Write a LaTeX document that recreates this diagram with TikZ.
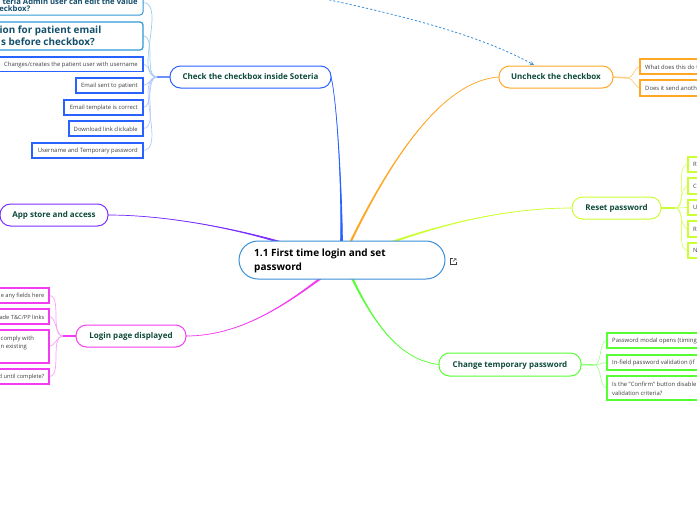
\documentclass[tikz,border=0pt]{standalone}
\usepackage{fontspec}
\setmainfont{Open Sans}
\usetikzlibrary{arrows.meta,backgrounds,calc}
\definecolor{rootc}{HTML}{3B8FD6}
\definecolor{titlec}{HTML}{0D4A3A}
\definecolor{bluec}{HTML}{2962FF}
\definecolor{purplec}{HTML}{7B2FFF}
\definecolor{magc}{HTML}{F23CF2}
\definecolor{orangec}{HTML}{FFA726}
\definecolor{limec}{HTML}{CCFF33}
\definecolor{greenc}{HTML}{55FF33}
\definecolor{cyanc}{HTML}{2E9AD6}
\definecolor{qtext}{HTML}{14506E}
\tikzset{
  base/.style={inner sep=0pt,outer sep=0pt,anchor=north west},
  topic/.style={base,draw=#1,line width=1pt,rounded corners=10.5pt,fill=white,text=titlec,font=\bfseries\fontsize{8}{9}\selectfont,align=center,text height=6.5pt,text depth=1.5pt},
  leaf/.style={base,draw=#1,line width=1.5pt,fill=white},
  qbox/.style={base,draw=cyanc,rounded corners=3pt,fill=white},
  twig/.style={line width=.7pt},
  stub/.style={line width=1.4pt},
  lt/.style={anchor=east,inner sep=0pt,text=black!75,font=\fontsize{5.9}{8.5}\selectfont},
  lts/.style={anchor=east,inner sep=0pt,text=black!75,font=\fontsize{5.7}{8.5}\selectfont},
  rt/.style={anchor=west,inner sep=0pt,text=black!75,font=\fontsize{5.9}{8.5}\selectfont},
  qsmall/.style={inner sep=0pt,text=qtext,font=\bfseries\fontsize{7.7}{9}\selectfont},
  qbig/.style={inner sep=0pt,text=qtext,font=\bfseries\fontsize{9.9}{11}\selectfont}
}
% tapered main branch: colour, thin end, control 1, control 2, thick end, half-width vector
\newcommand{\taperline}[6]{%
  \filldraw[#1,line width=.7pt,line join=round] (#2) .. controls (#3) and (#4) .. ($(#5)+(#6)$) -- ($(#5)-(#6)$) .. controls (#4) and (#3) .. (#2) -- cycle;}
\begin{document}
\begin{tikzpicture}[x=1pt,y=-1pt]
\useasboundingbox (0,0) rectangle (697,520);
\clip (0,0) rectangle (697,520);
\coordinate (jcheck) at (157,77);
\coordinate (jlogin) at (63,336);
\coordinate (juncheck) at (628,78);
\coordinate (jreset) at (675,208);
\coordinate (jchange) at (594,365);
\coordinate (dashstart) at (325,-1);
\coordinate (dashend) at (534,65);
\coordinate (rpurple) at (283,243);
\coordinate (rblue) at (341.5,243);
\coordinate (rorange) at (350,243);
\coordinate (rlime) at (392,242);
\coordinate (rgreen) at (352,278);
\coordinate (rmag) at (321,278);
% topics
\node[topic=rootc,rounded corners=19pt,minimum width=206pt,minimum height=38pt,text=black] (root) at (239,241) {};
\node[anchor=west,inner sep=0pt,align=left,text=black,font=\bfseries\fontsize{10}{14}\selectfont] (roottext) at (254,260.5) {1.1 First time login and set\\password};
\node[topic=bluec,minimum width=161pt,minimum height=22pt] (check) at (170,66) {Check the checkbox inside Soteria};
\node[topic=purplec,minimum width=108pt,minimum height=22pt] (app) at (0,204) {App store and access};
\node[topic=magc,minimum width=110pt,minimum height=22pt] (login) at (76,325) {Login page displayed};
\node[topic=orangec,minimum width=114pt,minimum height=22pt] (uncheck) at (499,66) {Uncheck the checkbox};
\node[topic=limec,minimum width=89pt,minimum height=22pt] (reset) at (572,197) {Reset password};
\node[topic=greenc,minimum width=142pt,minimum height=23pt] (change) at (439,353) {Change temporary password};
% check children
\node[qbox,line width=1pt,anchor=north east,minimum width=160pt,minimum height=25pt] (q1) at (143,-10) {};
\node[qsmall,anchor=east] (q1a) at (138,1.5) {teria Admin user can edit the value};
\node[qsmall,anchor=east] (q1b) at (30.5,8.5) {eckbox?};
\node[qbox,line width=1.2pt,anchor=north east,minimum width=160pt,minimum height=28pt] (q2) at (143,22) {};
\node[qbig,anchor=east] (q2a) at (101.5,31) {ion for patient email};
\node[qbig,anchor=east] (q2b) at (95,42) {s before checkbox?};
\node[leaf=bluec,anchor=north east,minimum width=150pt,minimum height=14.5pt] (c1) at (143,57) {};
\node[lt] (c1t) at (138,64.5) {Changes/creates the patient user with username};
\node[leaf=bluec,anchor=north east,minimum width=67pt,minimum height=15pt] (c2) at (143,78) {};
\node[lt] (c2t) at (138,86) {Email sent to patient};
\node[leaf=bluec,anchor=north east,minimum width=79pt,minimum height=15pt] (c3) at (143,100) {};
\node[lt] (c3t) at (138,107.5) {Email template is correct};
\node[leaf=bluec,anchor=north east,minimum width=74pt,minimum height=15pt] (c4) at (143,121) {};
\node[lt] (c4t) at (138,129) {Download link clickable};
\node[leaf=bluec,anchor=north east,minimum width=111pt,minimum height=15pt] (c5) at (143,143) {};
\node[lt] (c5t) at (138,151) {Username and Temporary password};
% login children
\node[leaf=magc,anchor=north east,minimum width=70pt,minimum height=15pt] (l1) at (49,288) {};
\node[lts] (l1t) at (44.5,296) {e any fields here};
\node[leaf=magc,anchor=north east,minimum width=70pt,minimum height=15pt] (l2) at (49,309) {};
\node[lts] (l2t) at (44.5,317) {ade T\&C/PP links};
\node[leaf=magc,anchor=north east,minimum width=70pt,minimum height=33pt] (l3) at (49,330) {};
\node[rt] (l3a) at (0.5,338.5) {comply with};
\node[rt] (l3b) at (0.5,347) {n existing};
\node[leaf=magc,anchor=north east,minimum width=70pt,minimum height=15pt] (l4) at (49,369) {};
\node[lts] (l4t) at (44.5,377) {d until complete?};
% right leaves
\node[leaf=orangec,minimum width=80pt,minimum height=15pt] (u1) at (640,59) {};
\node[rt] (u1t) at (645,67) {What does this do t};
\node[leaf=orangec,minimum width=80pt,minimum height=16pt] (u2) at (640,80) {};
\node[rt] (u2t) at (645,88.5) {Does it send anoth};
\foreach \n/\a/\b/\t in {r1/157/172/R,r2/178/194/C,r3/200/215/U,r4/221/237/R,r5/243/258/N}{
  \node[leaf=limec,minimum width=30pt,minimum height={(\b-\a)*1pt}] (\n) at (688,\a) {};
  \node[rt] (\n t) at (693,{(\a+\b)/2}) {\t};
}
\node[leaf=greenc,minimum width=110pt,minimum height=15pt] (g1) at (607,333) {};
\node[rt] (g1t) at (612,341) {Password modal opens (timing};
\node[leaf=greenc,minimum width=110pt,minimum height=15pt] (g2) at (607,355) {};
\node[rt] (g2t) at (612,363) {In-field password validation (if};
\node[leaf=greenc,minimum width=110pt,minimum height=24pt] (g3) at (607,376) {};
\node[rt] (g3a) at (612,384) {Is the "Confirm" button disable};
\node[rt] (g3b) at (612,393) {validation criteria?};
% connectors
\begin{scope}[on background layer]
\taperline{bluec}{check.east}{337,100}{342,190}{rblue}{1,0}
\taperline{purplec}{app.east}{170,215}{240,230}{rpurple}{.3,-.7}
\taperline{magc}{login.east}{240,336}{285,305}{rmag}{.5,.6}
\taperline{orangec}{uncheck.west}{450,80}{400,140}{rorange}{.7,.3}
\taperline{limec}{reset.west}{510,208}{450,222}{rlime}{.3,.7}
\taperline{greenc}{change.west}{400,360}{375,325}{rgreen}{.7,-.3}
\draw[bluec!70,stub] (check.west) -- (jcheck);
\draw[magc,stub] (login.west) -- (jlogin);
\draw[orangec!60,stub] (uncheck.east) -- (juncheck);
\draw[limec,stub] (reset.east) -- (jreset);
\draw[greenc!70,stub] (change.east) -- (jchange);
\foreach \n/\c in {q1/cyanc!50,q2/cyanc!50,c1/bluec!35,c2/bluec!35,c3/bluec!35,c4/bluec!35,c5/bluec!35}{
  \draw[\c,twig] (jcheck) to[out=180,in=0,looseness=.8] (\n.east);
}
\foreach \n in {l1,l2,l3,l4}{
  \draw[magc!50,twig] (jlogin) to[out=180,in=0,looseness=.8] (\n.east);
}
\foreach \n in {u1,u2}{
  \draw[orangec!60,twig] (juncheck) to[out=0,in=180,looseness=.8] (\n.west);
}
\foreach \n in {r1,r2,r3,r4,r5}{
  \draw[limec!70,twig] (jreset) to[out=0,in=180,looseness=.8] (\n.west);
}
\foreach \n in {g1,g2,g3}{
  \draw[greenc!50,twig] (jchange) to[out=0,in=180,looseness=.8] (\n.west);
}
\end{scope}
% dashed relation
\draw[rootc,line width=.8pt,dash pattern=on 2.2pt off 2pt,-{Stealth[length=4pt,width=4pt]}] (dashstart) .. controls (400,15) and (480,35) .. (dashend);
% external link icon
\draw[black!75,line width=.5pt] (453,258.5) -- (450.5,258.5) -- (450.5,264) -- (456,264) -- (456,261.5);
\draw[black!75,line width=.5pt] (453,261.5) -- (456,258.5) (454,258.5) -- (456,258.5) -- (456,260.5);
\end{tikzpicture}
\end{document}
